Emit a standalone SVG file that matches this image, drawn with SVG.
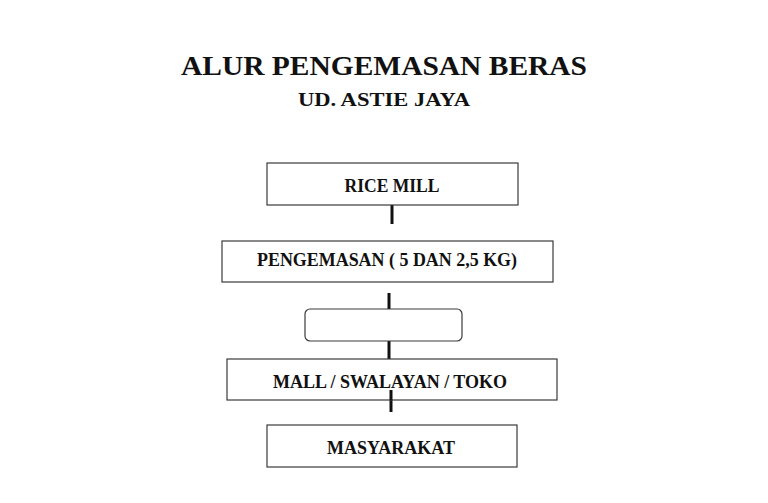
<svg xmlns="http://www.w3.org/2000/svg" width="768" height="503" viewBox="0 0 768 503">
<style>
.box{fill:#fff;stroke:#3a3a3a;stroke-width:1.2}
.t{font-family:"Liberation Serif","Times New Roman",serif;font-weight:bold;fill:#111;text-anchor:middle}
.lbl{font-size:18px}
.con{stroke:#111;stroke-width:3;fill:none}
</style>
<rect width="768" height="503" fill="#fff"/>
<g id="title">
<text class="t" x="384" y="75" font-size="28" textLength="406" lengthAdjust="spacingAndGlyphs">ALUR PENGEMASAN BERAS</text>
<text class="t" x="384" y="106" font-size="18" textLength="172" lengthAdjust="spacingAndGlyphs">UD. ASTIE JAYA</text>
</g>
<g id="connectors">
<line class="con" x1="392" y1="205" x2="392" y2="224"/>
<line class="con" x1="389" y1="293" x2="389" y2="309"/>
<line class="con" x1="389" y1="341" x2="389" y2="360"/>
<line class="con" x1="391" y1="390" x2="391" y2="412"/>
</g>
<g id="rice-mill">
<rect class="box" x="267" y="163" width="251" height="42"/>
<text class="t lbl" x="392" y="192" textLength="95" lengthAdjust="spacingAndGlyphs">RICE MILL</text>
</g>
<g id="pengemasan">
<rect class="box" x="222" y="241" width="331" height="41"/>
<text class="t lbl" x="387" y="266" textLength="260" lengthAdjust="spacingAndGlyphs">PENGEMASAN ( 5 DAN 2,5 KG)</text>
</g>
<g id="blank">
<rect class="box" x="305" y="309" width="157" height="32" rx="5"/>
</g>
<g id="mall">
<rect class="box" x="227" y="359" width="330" height="41"/>
<line class="con" x1="391" y1="390" x2="391" y2="400"/>
<text class="t lbl" x="390" y="388" textLength="234" lengthAdjust="spacingAndGlyphs">MALL / SWALAYAN / TOKO</text>
</g>
<g id="masyarakat">
<rect class="box" x="267" y="425" width="250" height="42"/>
<text class="t lbl" x="391" y="454" textLength="128" lengthAdjust="spacingAndGlyphs">MASYARAKAT</text>
</g>
</svg>
